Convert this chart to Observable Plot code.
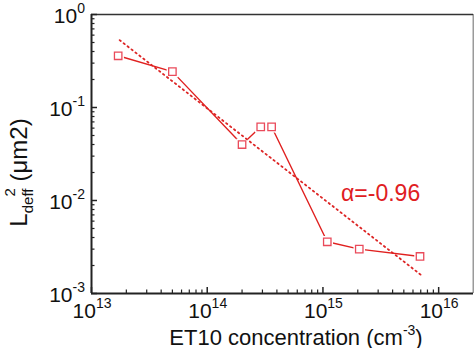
<!DOCTYPE html>
<html>
<head>
<meta charset="utf-8">
<script src="https://cdn.jsdelivr.net/npm/d3@7"></script>
<script src="https://cdn.jsdelivr.net/npm/@observablehq/plot@0.6"></script>
<style>
  html, body { margin: 0; padding: 0; background: #fff; }
  svg { font-family: "Liberation Sans", Arial, sans-serif; display: block; }
</style>
</head>
<body>
<div id="chart"></div>
<script>
// Data
const concentration = [1.7e13, 5.0e13, 2.0e14, 2.9e14, 3.6e14, 1.09e15, 2.06e15, 6.9e15];
const ldeff2 = [0.36, 0.243, 0.040, 0.062, 0.062, 0.0036, 0.0030, 0.0025];
const fitX = [1.75e13, 7.1e15];
const fitY = [0.53, 0.00157];
const fitLabel = "α=-0.96";
const xMajor = [1e13, 1e14, 1e15, 1e16];
const xExp = ["13", "14", "15", "16"];
const yMajor = [1e-3, 1e-2, 1e-1, 1];
const yExp = ["-3", "-2", "-1", "0"];
const xMinor = [13, 14, 15].flatMap(e => [2,3,4,5,6,7,8,9].map(m => m * 10 ** e));
const yMinor = [-3, -2, -1].flatMap(e => [2,3,4,5,6,7,8,9].map(m => +(m * 10 ** e).toPrecision(3)));

const points = concentration.map((x, i) => ({x, y: ldeff2[i]}));
const fit = fitX.map((x, i) => ({x, y: fitY[i]}));

const W = 474, H = 348;
const mL = 91, mT = 14, mR = 1, mB = 55;

const plot = Plot.plot({
  width: W,
  height: H,
  marginLeft: mL,
  marginTop: mT,
  marginRight: mR,
  marginBottom: mB,
  style: {fontFamily: "Liberation Sans, Arial, sans-serif", background: "white"},
  x: {type: "log", domain: [1e13, 2e16]},
  y: {type: "log", domain: [1e-3, 1]},
  marks: [
    // frame
    Plot.ruleX([2e16], {stroke: "#9a9a9a", strokeWidth: 2}),
    Plot.ruleY([1], {stroke: "#333", strokeWidth: 1.5}),
    Plot.ruleX([1e13], {stroke: "#222", strokeWidth: 2}),
    Plot.ruleY([1e-3], {stroke: "#222", strokeWidth: 2}),
    // inward ticks
    Plot.axisX(xMajor, {anchor: "bottom", tickSize: 6, dy: -6, tickFormat: () => "", label: null, stroke: "#222", strokeWidth: 1.5}),
    Plot.axisX(xMinor, {anchor: "bottom", tickSize: 3.5, dy: -3.5, tickFormat: () => "", label: null, stroke: "#222", strokeWidth: 1.2}),
    Plot.axisY(yMajor, {anchor: "left", tickSize: 6, dx: 6, tickFormat: () => "", label: null, stroke: "#222", strokeWidth: 1.5}),
    Plot.axisY(yMinor, {anchor: "left", tickSize: 3.5, dx: 3.5, tickFormat: () => "", label: null, stroke: "#222", strokeWidth: 1.2}),
    // connecting line
    Plot.line(points, {x: "x", y: "y", stroke: "#e0201f", strokeWidth: 1.4}),
    // gap halos around markers
    Plot.dot(points, {x: "x", y: "y", symbol: "square", r: 6.5, fill: "white", stroke: "none"}),
    // dotted fit
    Plot.line(fit, {x: "x", y: "y", stroke: "#dd2525", strokeWidth: 1.8, strokeDasharray: "1.5,3.5"}),
    // markers
    Plot.dot(points, {x: "x", y: "y", symbol: "square", r: 4.2, fill: "white", stroke: "#ea4a5a", strokeWidth: 1.3}),
    // fit label
    Plot.text([fitLabel], {x: 3.15e15, y: 0.0118, text: d => d, fill: "#e0201f", fontSize: 23, textAnchor: "middle"})
  ]
});

const svg = d3.select(plot);
const sx = plot.scale("x"), sy = plot.scale("y");

// x tick labels with superscripts
xMajor.forEach((v, i) => {
  const t = svg.append("text")
    .attr("x", sx.apply(v) + 1)
    .attr("y", 318)
    .attr("text-anchor", "middle")
    .attr("fill", "#111")
    .style("font-size", "21px");
  t.append("tspan").text("10");
  t.append("tspan").attr("dy", -10).style("font-size", "14px").text(xExp[i]);
});

// y tick labels
yMajor.forEach((v, i) => {
  const t = svg.append("text")
    .attr("x", 85)
    .attr("y", sy.apply(v) + 9)
    .attr("text-anchor", "end")
    .attr("fill", "#111")
    .style("font-size", "21px");
  t.append("tspan").text("10");
  t.append("tspan").attr("dy", -10).style("font-size", "14px").text(yExp[i]);
});

// x axis label
const xl = svg.append("text")
  .attr("x", 296)
  .attr("y", 344.5)
  .attr("text-anchor", "middle")
  .attr("fill", "#111")
  .style("font-size", "22px");
xl.append("tspan").text("ET10 concentration (cm");
xl.append("tspan").attr("dy", -10).style("font-size", "14px").text("-3");
xl.append("tspan").attr("dy", 10).text(")");

// y axis label
const yl = svg.append("text")
  .attr("transform", "translate(27,172.5) rotate(-90)")
  .attr("text-anchor", "middle")
  .attr("fill", "#111")
  .style("font-size", "24px");
yl.append("tspan").text("L");
yl.append("tspan").attr("dy", 6).style("font-size", "15px").text("deff");
yl.append("tspan").attr("dy", -18).attr("dx", -8).style("font-size", "15px").text("2");
yl.append("tspan").attr("dy", 12).text(" (μm2)");

document.getElementById("chart").appendChild(plot);
</script>
</body>
</html>
